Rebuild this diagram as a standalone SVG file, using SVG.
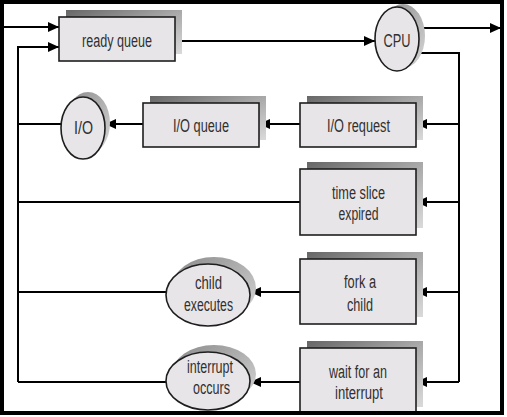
<svg xmlns="http://www.w3.org/2000/svg" width="507" height="417" viewBox="0 0 507 417">
<style>
.box{fill:#e8e5e8;stroke:#1e1e1e;stroke-width:1.6}
.sh{fill:url(#shg)}
.esh{fill:url(#eshg)}
.ln{fill:none;stroke:#000;stroke-width:2}
.ar{marker-end:url(#ah)}
text{font-family:"Liberation Sans",Arial,sans-serif;font-size:18px;fill:#303030;text-anchor:middle}
</style>
<defs>
<linearGradient id="shg" x1="0" y1="0" x2="1" y2="1">
<stop offset="0" stop-color="#666"/>
<stop offset="0.5" stop-color="#a8a8a8"/>
<stop offset="1" stop-color="#dadada"/>
</linearGradient>
<linearGradient id="eshg" x1="0" y1="0" x2="1" y2="1">
<stop offset="0" stop-color="#8a8a8a"/>
<stop offset="0.6" stop-color="#b8b8b8"/>
<stop offset="1" stop-color="#d8d8d8"/>
</linearGradient>
<marker id="ah" markerUnits="userSpaceOnUse" markerWidth="11" markerHeight="10" refX="11" refY="5" orient="auto">
<path d="M0,0 L11,5 L0,10 z" fill="#000"/>
</marker>
</defs>
<rect x="0" y="0" width="507" height="417" fill="#fff"/>

<g id="connectors">
<path class="ln ar" d="M4,27 H59"/>
<path class="ln ar" d="M175,41 H375"/>
<path class="ln ar" d="M416,28 H501"/>
<path class="ln" d="M415,53 H459 V382"/>
<path class="ln ar" d="M459,124 H416"/>
<path class="ln ar" d="M459,202 H416"/>
<path class="ln ar" d="M459,292 H416"/>
<path class="ln ar" d="M459,382 H416"/>
<path class="ln ar" d="M300,124 H259"/>
<path class="ln ar" d="M143,124 H105"/>
<path class="ln" d="M61,124 H18"/>
<path class="ln" d="M300,202 H18"/>
<path class="ln ar" d="M300,292 H250"/>
<path class="ln" d="M166,292 H18"/>
<path class="ln ar" d="M300,382 H250"/>
<path class="ln" d="M166,382 H18"/>
<path class="ln ar" d="M18,382 V47 H59"/>
</g>

<g id="ready-queue">
<rect class="sh" x="66" y="10" width="116" height="44"/>
<rect class="box" x="59" y="17" width="116" height="44"/>
<text x="117" y="47" textLength="70" lengthAdjust="spacingAndGlyphs">ready queue</text>
</g>

<g id="cpu">
<ellipse class="esh" cx="403" cy="36" rx="22" ry="32"/>
<ellipse class="box" cx="397" cy="39" rx="22" ry="32"/>
<text x="397" y="47" textLength="27" lengthAdjust="spacingAndGlyphs">CPU</text>
</g>

<g id="io">
<ellipse class="esh" cx="88" cy="123" rx="22" ry="31"/>
<ellipse class="box" cx="83" cy="128" rx="22" ry="31"/>
<text x="83.5" y="134" textLength="19" lengthAdjust="spacingAndGlyphs">I/O</text>
</g>

<g id="io-queue">
<rect class="sh" x="150" y="96" width="116" height="44"/>
<rect class="box" x="143" y="103" width="116" height="44"/>
<text x="201" y="132" textLength="56" lengthAdjust="spacingAndGlyphs">I/O queue</text>
</g>

<g id="io-request">
<rect class="sh" x="307" y="96" width="116" height="44"/>
<rect class="box" x="300" y="103" width="116" height="44"/>
<text x="358.5" y="132" textLength="63" lengthAdjust="spacingAndGlyphs">I/O request</text>
</g>

<g id="time-slice">
<rect class="sh" x="307" y="162" width="116" height="66"/>
<rect class="box" x="300" y="169" width="116" height="66"/>
<text x="358.5" y="199" textLength="53" lengthAdjust="spacingAndGlyphs">time slice</text>
<text x="358.5" y="220" textLength="40" lengthAdjust="spacingAndGlyphs">expired</text>
</g>

<g id="fork-child">
<rect class="sh" x="307" y="252" width="116" height="65"/>
<rect class="box" x="300" y="259" width="116" height="65"/>
<text x="360" y="288" textLength="32" lengthAdjust="spacingAndGlyphs">fork a</text>
<text x="360" y="311" textLength="26" lengthAdjust="spacingAndGlyphs">child</text>
</g>

<g id="wait-interrupt">
<rect class="sh" x="307" y="341" width="116" height="66"/>
<rect class="box" x="300" y="348" width="116" height="66"/>
<text x="358" y="378" textLength="58" lengthAdjust="spacingAndGlyphs">wait for an</text>
<text x="359" y="399" textLength="48" lengthAdjust="spacingAndGlyphs">interrupt</text>
</g>

<g id="child-executes">
<ellipse class="esh" cx="214" cy="288" rx="42" ry="31"/>
<ellipse class="box" cx="208" cy="295" rx="42" ry="31"/>
<text x="208.5" y="289" textLength="27" lengthAdjust="spacingAndGlyphs">child</text>
<text x="208.5" y="311" textLength="49" lengthAdjust="spacingAndGlyphs">executes</text>
</g>

<g id="interrupt-occurs">
<ellipse class="esh" cx="214" cy="374" rx="42" ry="29"/>
<ellipse class="box" cx="208" cy="381" rx="42" ry="29"/>
<text x="210" y="373" textLength="46" lengthAdjust="spacingAndGlyphs">interrupt</text>
<text x="211.5" y="394" textLength="37" lengthAdjust="spacingAndGlyphs">occurs</text>
</g>

<rect id="frame" x="2" y="2" width="500" height="411" fill="none" stroke="#000" stroke-width="4"/>
</svg>
